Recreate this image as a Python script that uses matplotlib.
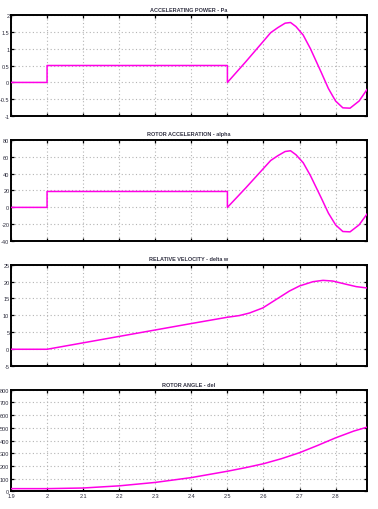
import numpy as np
import matplotlib.pyplot as plt
from matplotlib.ticker import FuncFormatter

# time axis limits (s)
t_start, t_end = 1.9, 2.887

# accelerating power Pa (pu)
t_pa = [1.9, 2.0, 2.0, 2.5, 2.5, 2.55, 2.6, 2.62, 2.64, 2.66, 2.675, 2.69, 2.71,
        2.73, 2.76, 2.78, 2.80, 2.82, 2.84, 2.865, 2.887]
pa = [0, 0, 0.5, 0.5, 0, 0.6, 1.22, 1.47, 1.62, 1.75, 1.77, 1.65, 1.40,
      1.0, 0.3, -0.18, -0.55, -0.75, -0.76, -0.55, -0.21]

# rotor acceleration alpha
t_alpha = t_pa
alpha = [0, 0, 18.8, 18.8, 0, 22.6, 46.0, 55.4, 61.1, 66.0, 66.9, 62.2, 52.8,
         37.7, 11.3, -6.8, -20.7, -28.5, -28.9, -20.7, -7.9]

# relative velocity delta w
t_w = [1.9, 2.0, 2.1, 2.2, 2.3, 2.4, 2.5, 2.533, 2.561, 2.598, 2.635, 2.672,
       2.7, 2.737, 2.765, 2.792, 2.829, 2.857, 2.887]
w = [0, 0, 1.9, 3.8, 5.7, 7.6, 9.46, 9.95, 10.7, 12.2, 14.7, 17.2,
     18.7, 19.95, 20.35, 20.15, 19.2, 18.5, 18.1]

# rotor angle del (deg)
t_del = [1.9, 2.0, 2.1, 2.2, 2.3, 2.4, 2.5, 2.55, 2.6, 2.65, 2.7, 2.75, 2.8,
         2.85, 2.887]
dl = [21, 21, 26, 43, 70, 108, 158, 186, 217, 257, 304, 361, 421, 474, 505]

titles = ['ACCELERATING POWER - Pa', 'ROTOR ACCELERATION - alpha',
          'RELATIVE VELOCITY - delta w', 'ROTOR ANGLE - del']
yticks = [np.arange(-1, 2.01, 0.5), np.arange(-40, 81, 20),
          np.arange(-5, 26, 5), np.arange(0, 801, 100)]
xticks = np.arange(1.9, 2.85, 0.1)

series = [(t_pa, pa), (t_alpha, alpha), (t_w, w), (t_del, dl)]

fig = plt.figure(figsize=(3.78, 5.10), dpi=100)
plt.rcParams['font.family'] = ['Liberation Sans', 'DejaVu Sans']

bottoms = [0.770, 0.525, 0.280, 0.0347]
fmt = FuncFormatter(lambda v, p: ('%g' % round(v, 3)))
label_col = '#2a2a3a'

for i in range(4):
    ax = fig.add_axes([0.0291, bottoms[i], 0.9418, 0.1992])
    x, y = series[i]
    ax.plot(x, y, color='#ff00e6', lw=1.1, zorder=3)
    ax.set_xlim(t_start, t_end)
    ax.set_ylim(yticks[i][0], yticks[i][-1])
    ax.set_yticks(yticks[i])
    ax.set_xticks(xticks)
    ax.yaxis.set_major_formatter(fmt)
    ax.xaxis.set_major_formatter(fmt)
    ax.grid(True, color='#b4b4b4', lw=0.8, ls=(0, (1, 2.2)))
    ax.tick_params(direction='in', length=2.5, width=0.9, top=True, right=True,
                   labelsize=4, colors='black', labelcolor=label_col, pad=1.2)
    if i < 3:
        ax.tick_params(labelbottom=False)
    for s in ax.spines.values():
        s.set_linewidth(1.4)
    ax.set_title(titles[i], fontsize=4, fontweight='bold', color='#333344', pad=3)

fig.savefig('out.png', dpi=100)
